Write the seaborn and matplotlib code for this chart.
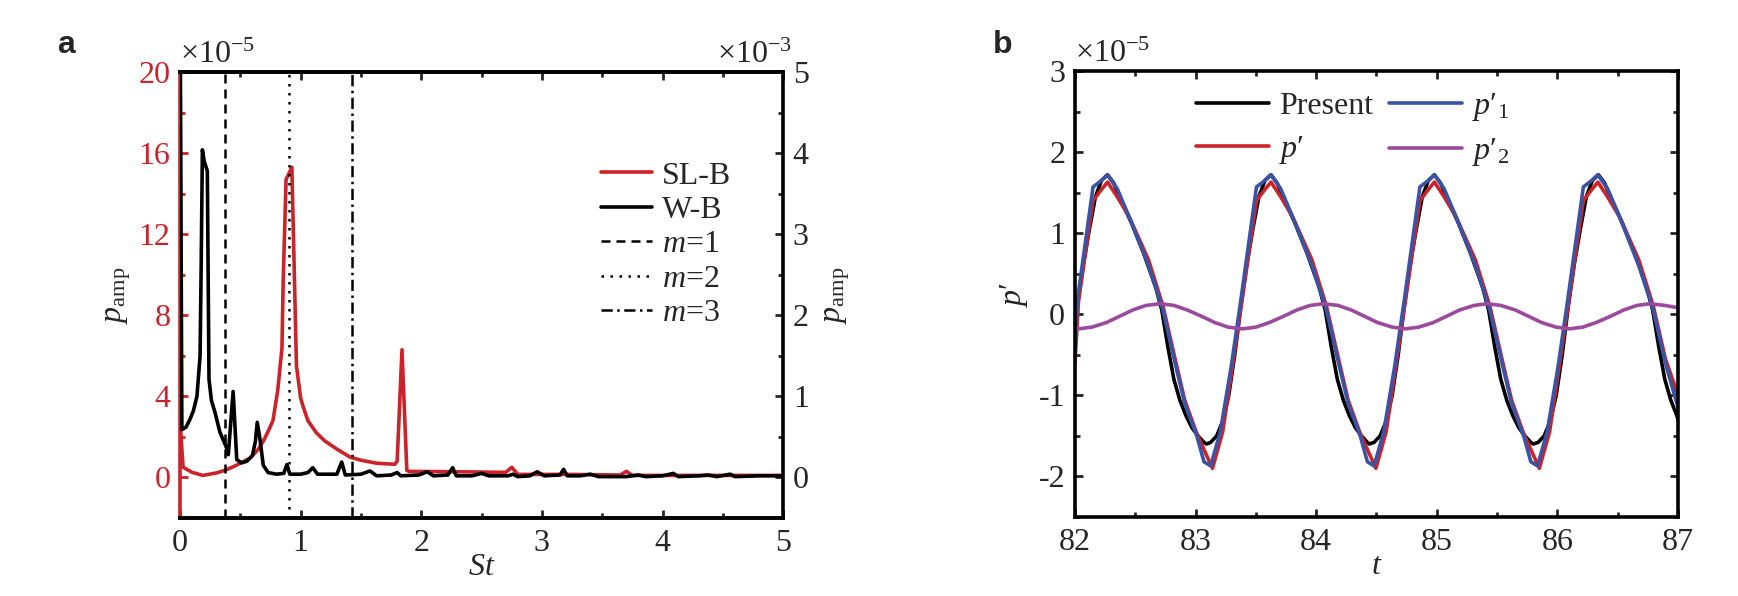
import matplotlib
matplotlib.use("Agg")
import matplotlib.pyplot as plt
from matplotlib.lines import Line2D
from matplotlib.ticker import MultipleLocator
import seaborn as sns

# Panel a: amplitude spectra (SL-B on left axis in 1e-5, W-B on right axis in 1e-3)
st_slb = [0.0, 0.005, 0.025, 0.1, 0.19, 0.30, 0.37, 0.45, 0.53, 0.58, 0.65, 0.70, 0.74,
          0.77, 0.81, 0.845, 0.855, 0.879, 0.927, 0.965, 1.0, 1.02, 1.06, 1.13, 1.2, 1.3,
          1.41, 1.5, 1.63, 1.78, 1.80, 1.84, 1.88, 1.9, 2.3, 2.7, 2.75, 2.8, 3.2, 3.65,
          3.7, 3.75, 4.5, 5.0]
amp_slb = [25.0, 2.3, 0.5, 0.25, 0.1, 0.22, 0.35, 0.55, 0.8, 0.95, 1.4, 1.9, 2.4,
           2.8, 4.3, 6.4, 9.7, 14.7, 15.3, 5.5, 3.9, 3.5, 2.8, 2.2, 1.8, 1.4,
           1.0, 0.85, 0.7, 0.65, 0.8, 6.3, 0.35, 0.3, 0.28, 0.25, 0.5, 0.15, 0.15, 0.12,
           0.3, 0.1, 0.1, 0.1]

st_wb = [0.0, 0.015, 0.05, 0.083, 0.11, 0.14, 0.166, 0.175, 0.185, 0.20, 0.226, 0.24,
         0.26, 0.29, 0.33, 0.39, 0.40, 0.44, 0.47, 0.51, 0.555, 0.60, 0.625, 0.64, 0.66,
         0.69, 0.73, 0.80, 0.86, 0.886, 0.91, 1.0, 1.06, 1.10, 1.14, 1.3, 1.34, 1.37,
         1.5, 1.575, 1.63, 1.75, 1.80, 1.83, 1.98, 2.05, 2.1, 2.22, 2.26, 2.29, 2.42,
         2.5, 2.56, 2.72, 2.76, 2.8, 2.9, 2.96, 3.02, 3.15, 3.18, 3.21, 3.32, 3.4, 3.47,
         3.7, 3.8, 3.86, 4.0, 4.09, 4.13, 4.3, 4.38, 4.45, 4.56, 4.6, 4.8, 5.0]
amp_wb = [6.0, 0.59, 0.62, 0.72, 0.82, 1.0, 1.5, 2.6, 4.04, 3.9, 3.78, 1.21,
          0.95, 0.8, 0.56, 0.35, 0.28, 1.06, 0.22, 0.18, 0.2, 0.27, 0.45, 0.68, 0.5,
          0.15, 0.06, 0.04, 0.05, 0.16, 0.04, 0.04, 0.06, 0.12, 0.04, 0.04, 0.19, 0.03,
          0.04, 0.08, 0.02, 0.03, 0.06, 0.02, 0.03, 0.07, 0.02, 0.03, 0.12, 0.02, 0.02,
          0.05, 0.02, 0.02, 0.04, 0.01, 0.02, 0.07, 0.02, 0.03, 0.10, 0.02, 0.02, 0.04, 0.01,
          0.01, 0.03, 0.01, 0.02, 0.05, 0.01, 0.02, 0.03, 0.01, 0.04, 0.01, 0.02, 0.02]

mode_st = [0.373, 0.904, 1.426]
mode_labels = ["$m$=1", "$m$=2", "$m$=3"]

# Panel b: pressure fluctuation time series (1e-5)
t_present = [82.00, 82.02, 82.07, 82.12, 82.17, 82.22, 82.27, 82.32, 82.37, 82.47, 82.57,
             82.67, 82.72, 82.77, 82.82, 82.87, 82.92, 82.97, 83.02, 83.07, 83.09,
             83.125, 83.175, 83.225, 83.275, 83.325, 83.375, 83.425, 83.475, 83.525,
             83.575, 83.625, 83.675, 83.725, 83.825, 83.925, 84.025, 84.075, 84.125,
             84.175, 84.225, 84.275, 84.325, 84.375, 84.425, 84.44, 84.48, 84.53, 84.58,
             84.63, 84.68, 84.73, 84.78, 84.83, 84.88, 84.93, 84.98, 85.03, 85.08, 85.18,
             85.28, 85.38, 85.43, 85.48, 85.53, 85.58, 85.63, 85.68, 85.73, 85.78, 85.80,
             85.84, 85.89, 85.94, 85.99, 86.04, 86.09, 86.14, 86.19, 86.24, 86.29, 86.34,
             86.39, 86.44, 86.54, 86.64, 86.74, 86.79, 86.84, 86.89, 86.94, 86.99, 87.00]
p_present = [-0.14, 0.10, 0.62, 1.05, 1.45, 1.65, 1.72, 1.62, 1.45, 1.12, 0.75,
             0.33, 0.05, -0.40, -0.80, -1.06, -1.25, -1.40, -1.50, -1.58, -1.60,
             -1.58, -1.50, -1.32, -1.00, -0.50, 0.10, 0.62, 1.05, 1.45,
             1.65, 1.72, 1.62, 1.45, 1.12, 0.75, 0.33, 0.05, -0.40,
             -0.80, -1.06, -1.25, -1.40, -1.50, -1.58, -1.60, -1.58, -1.50, -1.32,
             -1.00, -0.50, 0.10, 0.62, 1.05, 1.45, 1.65, 1.72, 1.62, 1.45, 1.12,
             0.75, 0.33, 0.05, -0.40, -0.80, -1.06, -1.25, -1.40, -1.50, -1.58, -1.60,
             -1.58, -1.50, -1.32, -1.00, -0.50, 0.10, 0.62, 1.05, 1.45, 1.65, 1.72,
             1.62, 1.45, 1.12, 0.75, 0.33, 0.05, -0.40, -0.80, -1.06, -1.25, -1.30]

t_p = [82.00, 82.03, 82.15, 82.21, 82.27, 82.35, 82.45, 82.61, 82.73, 82.83, 82.91, 83.01,
       83.14, 83.225, 83.305, 83.385, 83.505, 83.565, 83.625, 83.705, 83.805, 83.965,
       84.085, 84.185, 84.265, 84.365, 84.495, 84.58, 84.66, 84.74, 84.86, 84.92, 84.98,
       85.06, 85.16, 85.32, 85.44, 85.54, 85.62, 85.72, 85.85, 85.935, 86.015, 86.095,
       86.215, 86.275, 86.335, 86.415, 86.515, 86.675, 86.795, 86.895, 87.00]
p_total = [-0.60, 0.17, 1.40, 1.52, 1.63, 1.45, 1.20, 0.67, 0.10, -0.55, -1.06, -1.47,
           -1.90, -1.45, -0.65, 0.17, 1.40, 1.52, 1.63, 1.45, 1.20, 0.67,
           0.10, -0.55, -1.06, -1.47, -1.90, -1.45, -0.65, 0.17, 1.40, 1.52, 1.63,
           1.45, 1.20, 0.67, 0.10, -0.55, -1.06, -1.47, -1.90, -1.45, -0.65, 0.17,
           1.40, 1.52, 1.63, 1.45, 1.20, 0.67, 0.10, -0.55, -1.00]

t_p1 = [82.00, 82.02, 82.15, 82.22, 82.27, 82.35, 82.45, 82.61, 82.73, 82.83, 82.91, 83.01,
        83.07, 83.125, 83.205, 83.295, 83.375, 83.505, 83.575, 83.625, 83.705, 83.805,
        83.965, 84.085, 84.185, 84.265, 84.365, 84.425, 84.48, 84.56, 84.65, 84.73, 84.86,
        84.93, 84.98, 85.06, 85.16, 85.32, 85.44, 85.54, 85.62, 85.72, 85.78, 85.835,
        85.915, 86.005, 86.085, 86.215, 86.285, 86.335, 86.415, 86.515, 86.675, 86.795,
        86.895, 87.00]
p_mode1 = [-0.45, 0.17, 1.57, 1.65, 1.72, 1.55, 1.20, 0.60, 0.05, -0.60, -1.10, -1.50,
           -1.82, -1.87, -1.45, -0.65, 0.17, 1.57, 1.65, 1.72, 1.55, 1.20,
           0.60, 0.05, -0.60, -1.10, -1.50, -1.82, -1.87, -1.45, -0.65, 0.17, 1.57,
           1.65, 1.72, 1.55, 1.20, 0.60, 0.05, -0.60, -1.10, -1.50, -1.82, -1.87,
           -1.45, -0.65, 0.17, 1.57, 1.65, 1.72, 1.55, 1.20, 0.60, 0.05,
           -0.60, -1.15]

t_p2 = [82.00, 82.03, 82.14, 82.26, 82.37, 82.48, 82.59, 82.71, 82.82, 82.93, 83.05, 83.16,
        83.27, 83.39, 83.50, 83.61, 83.73, 83.84, 83.95, 84.06, 84.18, 84.29, 84.40, 84.51,
        84.63, 84.74, 84.85, 84.97, 85.08, 85.19, 85.31, 85.42, 85.53, 85.65, 85.76, 85.87,
        85.99, 86.10, 86.21, 86.32, 86.44, 86.55, 86.66, 86.77, 86.89, 87.00]
p_mode2 = [-0.178, -0.18, -0.159, -0.103, -0.025, 0.053, 0.109, 0.13, 0.109, 0.053, -0.025,
           -0.103, -0.159, -0.18, -0.159, -0.103, -0.025, 0.053, 0.109, 0.13, 0.109, 0.053,
           -0.025, -0.103, -0.159, -0.18, -0.159, -0.103, -0.025, 0.053, 0.109, 0.13, 0.109,
           0.053, -0.025, -0.103, -0.159, -0.18, -0.159, -0.103, -0.025, 0.053, 0.109, 0.13,
           0.109, 0.08]

RED = "#cc2229"
BLUE = "#3a53a4"
PURPLE = "#9b4a9e"
FS = 23

sns.set_style("ticks")
plt.rcParams["font.family"] = ["Liberation Serif", "DejaVu Serif"]
plt.rcParams["mathtext.fontset"] = "custom"
plt.rcParams["mathtext.rm"] = "Liberation Serif"
plt.rcParams["mathtext.it"] = "Liberation Serif:italic"
plt.rcParams["mathtext.bf"] = "Liberation Serif:bold"
plt.rcParams["axes.unicode_minus"] = False

fig = plt.figure(figsize=(17.38, 5.96), dpi=100)
ax_a = fig.add_axes([0.1036, 0.1309, 0.3470, 0.7483])
ax_r = ax_a.twinx()
ax_b = fig.add_axes([0.6185, 0.1326, 0.3470, 0.7483])


def style_ticks(axis):
    axis.tick_params(which="both", direction="in", width=2.0, labelsize=FS, pad=7)
    axis.tick_params(which="major", length=6)
    axis.tick_params(which="minor", length=3.5)
    for s in axis.spines.values():
        s.set_linewidth(2.6)
        s.set_color("black")


# ---- panel a ----
sns.lineplot(x=st_slb, y=amp_slb, ax=ax_a, color=RED, lw=2.6, sort=False, estimator=None)
sns.lineplot(x=st_wb, y=amp_wb, ax=ax_r, color="black", lw=2.6, sort=False, estimator=None)
styles = [(0, (3.6, 2.4)), (0, (1, 2.6)), (0, (4.5, 1.8, 1, 1.8))]
mode_handles = []
for st, ls, lab in zip(mode_st, styles, mode_labels):
    ln = ax_r.axvline(st, color="black", lw=1.8, ls=ls, label=lab)
    mode_handles.append(ln)

ax_a.set_xlim(0, 5)
ax_a.set_ylim(-2, 20)
ax_r.set_ylim(-0.5, 5)
ax_a.xaxis.set_major_locator(MultipleLocator(1))
ax_a.xaxis.set_minor_locator(MultipleLocator(0.5))
ax_a.yaxis.set_major_locator(MultipleLocator(4))
ax_a.yaxis.set_minor_locator(MultipleLocator(2))
ax_r.yaxis.set_major_locator(MultipleLocator(1))
ax_r.yaxis.set_minor_locator(MultipleLocator(0.5))
style_ticks(ax_a)
style_ticks(ax_r)
ax_a.tick_params(axis="x", which="both", top=True, pad=8)
ax_a.tick_params(axis="y", which="both", colors=RED)
ax_a.spines["left"].set_color(RED)
ax_r.spines["left"].set_visible(False)
ax_a.spines["right"].set_visible(False)

ax_a.set_xlabel("$St$", fontsize=FS, labelpad=-4)
ax_a.set_ylabel(r"$p_{\mathrm{amp}}$", fontsize=FS, labelpad=4)
ax_r.set_ylabel(r"$p_{\mathrm{amp}}$", fontsize=FS, labelpad=10)
ax_a.text(0, 1.005, r"$\times10^{-5}$", transform=ax_a.transAxes, ha="left", va="bottom", fontsize=FS)
ax_a.text(1.015, 1.005, r"$\times10^{-3}$", transform=ax_a.transAxes, ha="right", va="bottom", fontsize=FS)

handles_a = [Line2D([], [], color=RED, lw=2.6), Line2D([], [], color="black", lw=2.6)] + mode_handles
labels_a = ["SL-B", "W-B"] + mode_labels
ax_r.legend(handles_a, labels_a, loc="upper left", bbox_to_anchor=(0.698, 0.80), frameon=False,
            fontsize=FS, handlelength=1.6, handletextpad=0.3, labelspacing=0.16, borderpad=0,
            borderaxespad=0)

# ---- panel b ----
sns.lineplot(x=t_present, y=p_present, ax=ax_b, color="black", lw=2.6, sort=False, estimator=None)
sns.lineplot(x=t_p, y=p_total, ax=ax_b, color=RED, lw=2.6, sort=False, estimator=None)
sns.lineplot(x=t_p1, y=p_mode1, ax=ax_b, color=BLUE, lw=2.6, sort=False, estimator=None)
sns.lineplot(x=t_p2, y=p_mode2, ax=ax_b, color=PURPLE, lw=2.6, sort=False, estimator=None)

ax_b.set_xlim(82, 87)
ax_b.set_ylim(-2.5, 3)
ax_b.xaxis.set_major_locator(MultipleLocator(1))
ax_b.xaxis.set_minor_locator(MultipleLocator(0.5))
ax_b.yaxis.set_major_locator(MultipleLocator(1))
ax_b.yaxis.set_minor_locator(MultipleLocator(0.5))
style_ticks(ax_b)
ax_b.tick_params(which="both", top=True, right=True)
ax_b.tick_params(axis="x", pad=8)
ax_b.set_xlabel("$t$", fontsize=FS, labelpad=-4)
ax_b.set_ylabel("$p′$", fontsize=FS, labelpad=6)
ax_b.text(0, 1.005, r"$\times10^{-5}$", transform=ax_b.transAxes, ha="left", va="bottom", fontsize=FS)

handles_b = [Line2D([], [], color="black", lw=2.6), Line2D([], [], color=RED, lw=2.6),
             Line2D([], [], color=BLUE, lw=2.6), Line2D([], [], color=PURPLE, lw=2.6)]
labels_b = ["Present", "$p′$", r"$p′_{\mathit{1}}$", r"$p′_{\mathit{2}}$"]
ax_b.legend(handles_b, labels_b, loc="upper left", bbox_to_anchor=(0.2, 0.955), ncol=2,
            frameon=False, fontsize=FS, handlelength=2.3, handletextpad=0.3, labelspacing=0.42,
            columnspacing=0.5, borderpad=0, borderaxespad=0)

# panel letters
fig.text(57 / 1738, 1 - 53 / 596, "a", family="Liberation Sans", weight="bold", fontsize=23)
fig.text(993 / 1738, 1 - 53 / 596, "b", family="Liberation Sans", weight="bold", fontsize=23)

fig.savefig("out.png", dpi=100, facecolor="white")
